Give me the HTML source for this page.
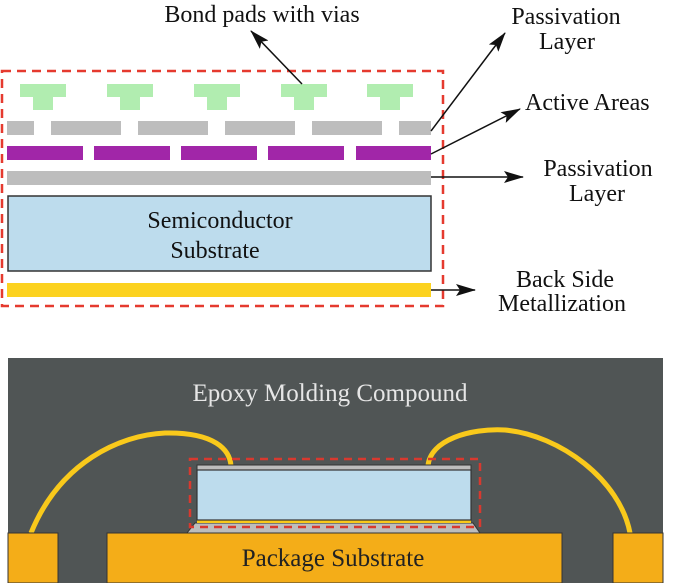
<!DOCTYPE html>
<html><head><meta charset="utf-8"><style>html,body{margin:0;padding:0;background:#fff}svg{display:block}svg text{font-family:"Liberation Serif","DejaVu Serif",serif}</style></head><body>
<svg width="685" height="583" viewBox="0 0 685 583" xmlns="http://www.w3.org/2000/svg" font-family="'Liberation Serif', 'DejaVu Serif', serif">
<defs>
<marker id="ah2" markerWidth="20" markerHeight="12" refX="19" refY="6" orient="auto" markerUnits="userSpaceOnUse"><path d="M0,0 L20,6 L0,12 L4,6 Z" fill="#111"/></marker></defs>
<g fill="#b1edb0">
<path d="M20,84h46v13h-13v13h-20v-13h-13z"/>
<path d="M107,84h46v13h-13v13h-20v-13h-13z"/>
<path d="M194,84h46v13h-13v13h-20v-13h-13z"/>
<path d="M281,84h46v13h-13v13h-20v-13h-13z"/>
<path d="M367,84h46v13h-13v13h-20v-13h-13z"/>
</g>
<g fill="#bdbdbd">
<rect x="7" y="121" width="27" height="14"/><rect x="51" y="121" width="70" height="14"/><rect x="138" y="121" width="70" height="14"/><rect x="225" y="121" width="70" height="14"/><rect x="312" y="121" width="70" height="14"/><rect x="399" y="121" width="32" height="14"/>
<rect x="7" y="171" width="424" height="14"/>
</g>
<g fill="#a126a8">
<rect x="7" y="146" width="76" height="14"/><rect x="94" y="146" width="76" height="14"/><rect x="181" y="146" width="76" height="14"/><rect x="268" y="146" width="76" height="14"/><rect x="356" y="146" width="75" height="14"/>
</g>
<rect x="8" y="196" width="423" height="75" fill="#bddced" stroke="#333" stroke-width="1.5"/>
<text x="220" y="228" font-size="24" text-anchor="middle" fill="#111">Semiconductor</text>
<text x="215" y="258" font-size="24" text-anchor="middle" fill="#111">Substrate</text>
<rect x="7" y="283" width="424" height="14" fill="#fcd21f"/>
<rect x="2" y="71" width="441" height="235" fill="none" stroke="#e53a2f" stroke-width="2.5" stroke-dasharray="9,6"/>
<g fill="#111" font-size="24">
<text x="262" y="22" text-anchor="middle">Bond pads with vias</text>
<text x="566" y="24" text-anchor="middle">Passivation</text>
<text x="567" y="49" text-anchor="middle">Layer</text>
<text x="525" y="110">Active Areas</text>
<text x="598" y="176" text-anchor="middle">Passivation</text>
<text x="597" y="201" text-anchor="middle">Layer</text>
<text x="565" y="287" text-anchor="middle">Back Side</text>
<text x="562" y="311" text-anchor="middle">Metallization</text>
</g>
<g stroke="#111" stroke-width="1.5" fill="none">
<line x1="302" y1="84" x2="251" y2="31" marker-end="url(#ah2)"/>
<line x1="431" y1="131" x2="505" y2="33" marker-end="url(#ah2)"/>
<line x1="431" y1="154" x2="520" y2="109" marker-end="url(#ah2)"/>
<line x1="431" y1="177" x2="523" y2="177" marker-end="url(#ah2)"/>
<line x1="431" y1="290" x2="475" y2="290" marker-end="url(#ah2)"/>
</g>
<rect x="8" y="358" width="655" height="225" fill="#505555"/>
<text x="330" y="401" font-size="25" text-anchor="middle" fill="#e6e6e6">Epoxy Molding Compound</text>
<path d="M31,533 C60,462 120,435 165,433 C215,432 230,450 231,466" stroke="#f9c91b" stroke-width="5" fill="none"/>
<path d="M428,466 C430,440 470,428 505,430 C560,435 620,480 630,533" stroke="#f9c91b" stroke-width="5" fill="none"/>
<rect x="8" y="533" width="50" height="50" fill="#f4ad18" stroke="#333" stroke-width="1"/>
<rect x="107" y="533" width="455" height="50" fill="#f4ad18" stroke="#333" stroke-width="1"/>
<rect x="613" y="533" width="50" height="50" fill="#f4ad18" stroke="#333" stroke-width="1"/>
<text x="333" y="566" font-size="25" text-anchor="middle" fill="#222">Package Substrate</text>
<path d="M195,523 L473,523 L480,533 L187,533 Z" fill="#bdbdbd" stroke="#333" stroke-width="1"/>
<rect x="197" y="520" width="274" height="3" fill="#f9c91b"/>
<rect x="197" y="465" width="274" height="5" fill="#bdbdbd" stroke="#333" stroke-width="1"/>
<rect x="197" y="470" width="274" height="50" fill="#bddced" stroke="#333" stroke-width="1.2"/>
<rect x="190" y="459" width="290" height="68" fill="none" stroke="#d8392f" stroke-width="2.5" stroke-dasharray="8,6"/>
</svg>
</body></html>
